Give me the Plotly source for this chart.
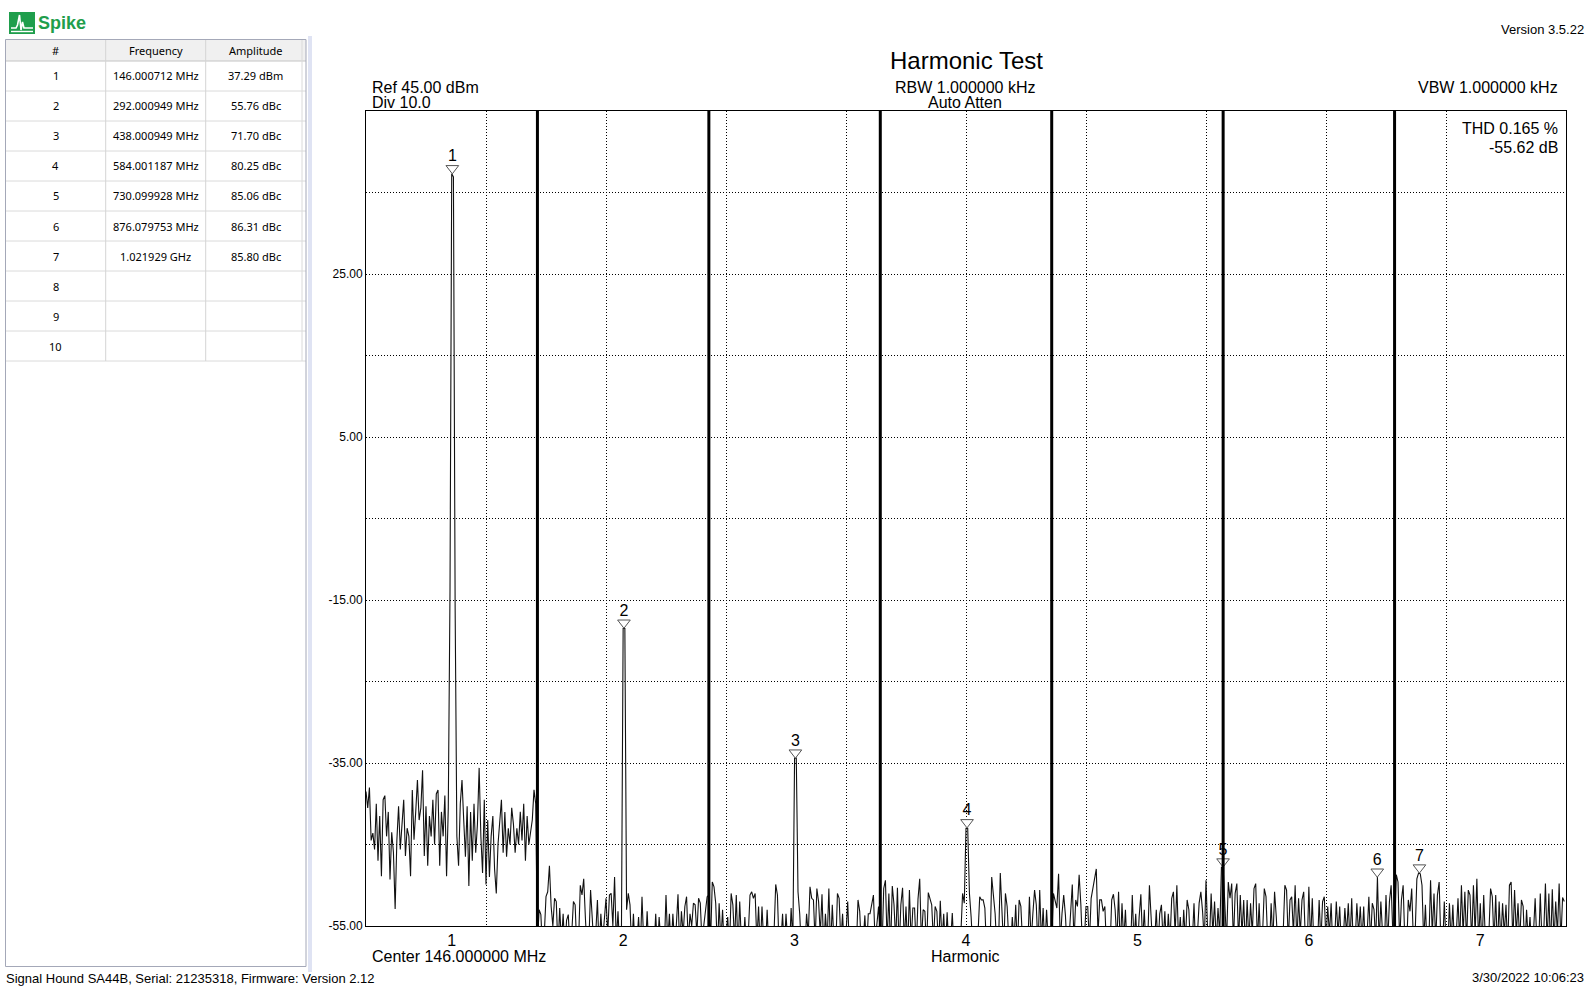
import plotly.graph_objects as go
import numpy as np

W, H = 1591, 988

# ---------------- data ----------------
harmonic_numbers = [1, 2, 3, 4, 5, 6, 7]
marker_ids = ["1", "2", "3", "4", "5", "6", "7"]
marker_harmonic = [1.0036, 2.0047, 3.0047, 4.0059, 5.4995, 6.3990, 6.6450]
marker_level = [37.29, -18.47, -34.41, -42.96, -47.77, -49.02, -48.51]

table_header = ["#", "Frequency", "Amplitude"]
table_index = [str(i) for i in range(1, 11)]
table_freq = ["146.000712 MHz", "292.000949 MHz", "438.000949 MHz", "584.001187 MHz",
              "730.099928 MHz", "876.079753 MHz", "1.021929 GHz", "", "", ""]
table_amp = ["37.29 dBm", "55.76 dBc", "71.70 dBc", "80.25 dBc", "85.06 dBc",
             "86.31 dBc", "85.80 dBc", "", "", ""]

# sweep: each harmonic window is one unit wide, 100 bins per window
sweep_bin = 0.01
section_start = [0.5, 1.5, 2.5, 3.5, 4.5, 5.5, 6.5]

trace_h1 = [-38.5, -40.5, -38.0, -44.5, -43.6, -45.6, -40.0, -47.0, -41.5, -48.9,
            -39.5, -39.0, -44.0, -41.0, -49.3, -43.5, -46.0, -52.9, -44.5, -40.3,
            -45.6, -42.0, -39.5, -46.4, -43.0, -44.0, -48.9, -38.3, -44.4, -41.0,
            -37.1, -42.0, -40.5, -35.9, -46.4, -40.3, -47.6, -41.5, -44.0, -39.5,
            -45.0, -38.8, -38.3, -47.6, -41.0, -44.0, -39.0, -48.9, -40.5, -14.0,
            37.29, 36.9, -16.0, -44.0, -47.6, -40.0, -37.1, -42.0, -46.5, -40.3,
            -50.1, -41.0, -47.0, -40.0, -46.0, -42.5, -35.6, -44.0, -48.5, -39.5,
            -49.9, -42.0, -49.0, -44.0, -41.5, -48.0, -51.0, -45.0, -42.0, -39.5,
            -46.0, -41.0, -46.5, -43.0, -45.0, -40.5, -42.5, -46.0, -43.0, -45.0,
            -41.0, -44.5, -40.0, -47.0, -41.5, -45.0, -43.5, -42.0, -38.3, -40.0]

trace_h2 = [-57, -53.0, -53.6, -58, -56, -51.4, -50.8, -47.6, -52.6, -55,
            -51.6, -52.0, -58, -52.8, -57, -53.5, -58, -54.3, -53.6, -58,
            -56, -52.0, -52.4, -58, -57, -50.0, -51.2, -49.2, -54.1, -58,
            -57, -50.6, -54.1, -58, -56, -51.8, -58, -53.5, -57, -53.7,
            -51.6, -56, -51.2, -51.0, -55, -49.0, -57, -53.2, -58, -56,
            -18.5, -18.5, -53.0, -51.0, -52.4, -58, -53.5, -58, -57, -53.9,
            -58, -51.4, -57, -58, -53.2, -58, -58, -57, -58, -53.5,
            -58, -53.9, -57, -55, -58, -51.2, -57, -53.5, -58, -53.5,
            -57, -55, -51.1, -58, -53.2, -56, -52.6, -51.4, -57, -53.5,
            -55, -52.2, -52.4, -56, -51.6, -52.2, -57, -55, -53.0, -51.4]

trace_h3 = [-51.2, -57, -49.6, -50.2, -52.2, -58, -52.2, -57, -53.0, -58,
            -56, -53.9, -58, -51.0, -52.4, -57, -51.2, -58, -52.0, -57,
            -58, -53.9, -58, -56, -51.2, -50.8, -51.6, -51.0, -57, -52.6,
            -58, -52.6, -57, -58, -53.0, -58, -57, -58, -56, -49.9,
            -51.2, -58, -57, -53.5, -58, -53.5, -57, -58, -52.8, -57,
            -34.4, -34.4, -50.8, -53.5, -58, -57, -58, -53.5, -56, -50.2,
            -51.6, -51.8, -57, -50.4, -52.0, -56, -51.1, -58, -53.5, -57,
            -50.4, -58, -52.4, -57, -58, -51.0, -51.6, -57, -53.5, -58,
            -56, -52.0, -58, -57, -58, -56, -58, -51.8, -53.2, -58,
            -57, -53.7, -58, -53.5, -53.5, -52.2, -51.2, -57, -55, -52.6]

trace_h4 = [-56, -58, -50.4, -49.4, -57, -51.0, -58, -50.1, -52.4, -57,
            -50.3, -58, -52.4, -50.3, -57, -52.6, -58, -50.6, -57, -52.8,
            -52.8, -58, -51.7, -49.2, -57, -53.0, -53.2, -58, -50.9, -51.6,
            -52.4, -57, -52.6, -53.2, -58, -51.9, -57, -53.5, -58, -53.3,
            -58, -57, -53.4, -58, -58, -57, -58, -56, -51.0, -52.2,
            -43.0, -43.0, -51.0, -53.9, -58, -57, -58, -56, -51.4, -51.8,
            -51.8, -52.8, -58, -57, -58, -49.0, -51.8, -53.5, -58, -57,
            -48.5, -53.0, -58, -51.0, -52.6, -57, -58, -53.9, -57, -52.4,
            -58, -51.8, -52.6, -57, -58, -56, -58, -51.4, -57, -53.5,
            -50.6, -52.4, -58, -50.6, -57, -52.8, -58, -53.0, -57, -55]

trace_h5 = [-57, -51.0, -52.0, -52.8, -48.6, -57, -53.5, -51.2, -53.7, -58,
            -57, -53.2, -49.9, -57, -51.8, -52.6, -48.7, -52.4, -58, -57,
            -52.6, -52.6, -57, -51.6, -50.4, -49.6, -48.0, -56, -51.8, -51.8,
            -53.2, -52.6, -58, -57, -58, -51.8, -51.1, -53.0, -57, -50.8,
            -58, -52.2, -57, -53.0, -58, -57, -58, -51.2, -57, -53.5,
            -58, -53.9, -51.1, -57, -53.0, -58, -57, -50.0, -53.5, -58,
            -57, -53.0, -58, -53.5, -52.4, -57, -53.2, -58, -53.5, -57,
            -51.6, -50.8, -56, -50.0, -57, -53.9, -58, -53.0, -57, -51.8,
            -53.0, -58, -57, -52.2, -58, -56, -52.2, -50.8, -53.2, -57,
            -49.4, -56, -57, -51.0, -56, -52.0, -57, -52.8, -56, -47.8]

trace_h6 = [-47.8, -53.2, -57, -49.6, -51.6, -49.8, -57, -51.0, -49.8, -57,
            -51.2, -56, -51.8, -58, -51.8, -57, -52.2, -56, -50.4, -49.8,
            -57, -52.2, -58, -56, -50.4, -51.4, -57, -58, -52.2, -57,
            -50.8, -53.9, -58, -57, -58, -56, -50.0, -50.6, -57, -51.8,
            -51.4, -56, -50.0, -57, -51.6, -56, -51.8, -50.8, -57, -58,
            -50.2, -57, -51.6, -58, -57, -58, -51.8, -57, -52.0, -51.4,
            -57, -52.6, -56, -52.2, -58, -57, -52.0, -56, -52.6, -58,
            -57, -52.8, -56, -52.2, -57, -51.6, -58, -57, -52.2, -56,
            -52.6, -57, -52.6, -58, -56, -51.4, -57, -52.2, -53.0, -57,
            -49.0, -57, -52.0, -56, -58, -51.2, -57, -52.0, -50.0, -56]

trace_h7 = [-56, -48.7, -49.6, -57, -51.8, -50.0, -57, -58, -51.8, -53.2,
            -50.4, -57, -56, -49.2, -48.5, -48.6, -50.0, -57, -52.4, -58,
            -57, -49.4, -56, -51.0, -57, -51.2, -49.6, -57, -58, -52.0,
            -57, -58, -52.2, -57, -52.4, -58, -56, -51.6, -57, -50.0,
            -56, -50.8, -57, -50.6, -51.2, -57, -50.0, -56, -49.2, -57,
            -52.2, -58, -51.2, -57, -58, -56, -50.4, -51.4, -57, -51.2,
            -58, -52.0, -57, -52.2, -56, -52.4, -58, -50.0, -49.6, -57,
            -50.6, -56, -52.2, -57, -51.8, -52.6, -58, -53.0, -57, -53.9,
            -58, -56, -51.6, -57, -58, -51.0, -57, -56, -49.8, -57,
            -51.0, -58, -50.5, -57, -52.0, -56, -49.8, -57, -51.5, -52.0]

sections = [trace_h1, trace_h2, trace_h3, trace_h4, trace_h5, trace_h6, trace_h7]

ref_level = 45.0
div_db = 10.0
n_div_y = 10
n_div_x = 10
x_range = [0.5, 7.5]
window_edges = [1.5, 2.5, 3.5, 4.5, 5.5, 6.5]

# ---------------- geometry helpers (pixels -> paper) ----------------
PL, PR, PT, PB = 366, 1566, 111, 926


def fx(px):
    return px / W


def fy(py):
    return 1 - py / H


def path(points):
    return "M " + " L ".join(f"{fx(a):.5f},{fy(b):.5f}" for a, b in points)


y_bottom = ref_level - n_div_y * div_db
px_per_db = (PB - PT) / (n_div_y * div_db)

# ---------------- figure ----------------
fig = go.Figure()

x_all, y_all = [], []
for start, vals in zip(section_start, sections):
    for i, v in enumerate(vals):
        x_all.append(start + i * sweep_bin)
        y_all.append(v)

fig.add_trace(go.Scatter(x=x_all, y=y_all, mode="lines",
                         line=dict(color="#111111", width=1.1),
                         hoverinfo="skip", showlegend=False))

marker_size = 11
tip_offset_db = (marker_size / 2) / px_per_db
label_offset_db = 16.5 / px_per_db
fig.add_trace(go.Scatter(
    x=marker_harmonic, y=[v + tip_offset_db for v in marker_level],
    mode="markers",
    marker=dict(symbol="triangle-down", size=marker_size, color="white",
                line=dict(color="#555", width=1)),
    hoverinfo="skip", showlegend=False, cliponaxis=False))
fig.add_trace(go.Scatter(
    x=marker_harmonic, y=[v + label_offset_db for v in marker_level],
    mode="text", text=marker_ids, textposition="middle center",
    textfont=dict(family="Liberation Sans, Arial", size=16, color="#000"),
    hoverinfo="skip", showlegend=False, cliponaxis=False))

grid_dash = "1px,2px"
y_tickvals = [y_bottom + k * div_db for k in range(n_div_y + 1)]
y_ticktext = [f"{v:.2f}" if k % 2 == 0 and k < n_div_y else "" for k, v in enumerate(y_tickvals)]
x_grid = list(np.linspace(x_range[0], x_range[1], n_div_x + 1))

fig.update_layout(
    width=W, height=H, autosize=False,
    margin=dict(l=0, r=0, t=0, b=0),
    paper_bgcolor="white", plot_bgcolor="white",
    font=dict(family="Liberation Sans, Arial", color="#000"),
    xaxis=dict(domain=[fx(PL), fx(PR)], range=x_range,
               tickmode="array", tickvals=harmonic_numbers,
               ticktext=[str(h) for h in harmonic_numbers],
               tickfont=dict(size=16, color="#000"),
               showgrid=False, zeroline=False, ticks="", automargin=False,
               showline=True, mirror=True, linecolor="#000", linewidth=1,
               minor=dict(tickmode="array", tickvals=x_grid, showgrid=True,
                          gridcolor="#000", gridwidth=1, griddash=grid_dash, ticks="")),
    yaxis=dict(domain=[fy(PB), fy(PT)], range=[y_bottom, ref_level],
               tickmode="array", tickvals=y_tickvals, ticktext=y_ticktext,
               tickfont=dict(size=12, color="#000"),
               showgrid=True, gridcolor="#000", gridwidth=1, griddash=grid_dash,
               zeroline=False, ticks="", automargin=False,
               showline=True, mirror=True, linecolor="#000", linewidth=1),
)

shapes = []
for e in window_edges:
    shapes.append(dict(type="line", xref="x", yref="y domain", x0=e, x1=e, y0=0, y1=1,
                       line=dict(color="#000", width=3), layer="above"))

# ---- left panel: marker table ----
TBL_L, TBL_R, TBL_T, HDR_B, ROW_H = 5.5, 306, 39.5, 61, 30
col_edges = [TBL_L, 105.7, 205.7, TBL_R]
n_rows = len(table_index)
rows_bottom = HDR_B + n_rows * ROW_H

shapes.append(dict(type="rect", xref="paper", yref="paper",
                   x0=fx(308), x1=fx(312), y0=fy(972), y1=fy(36),
                   fillcolor="#dfe3f3", line=dict(width=0), layer="below"))
shapes.append(dict(type="rect", xref="paper", yref="paper",
                   x0=fx(TBL_L), x1=fx(TBL_R), y0=fy(HDR_B), y1=fy(TBL_T),
                   fillcolor="#f0f0f0", line=dict(width=0), layer="below"))
for k in range(1, n_rows + 1):
    yy = HDR_B + k * ROW_H
    shapes.append(dict(type="line", xref="paper", yref="paper",
                       x0=fx(TBL_L), x1=fx(TBL_R), y0=fy(yy), y1=fy(yy),
                       line=dict(color="#dadada", width=1)))
shapes.append(dict(type="line", xref="paper", yref="paper",
                   x0=fx(TBL_L), x1=fx(TBL_R), y0=fy(HDR_B), y1=fy(HDR_B),
                   line=dict(color="#c4c4c4", width=1)))
for cx in col_edges[1:-1]:
    shapes.append(dict(type="line", xref="paper", yref="paper",
                       x0=fx(cx), x1=fx(cx), y0=fy(rows_bottom), y1=fy(TBL_T),
                       line=dict(color="#d4d4d4", width=1)))
shapes.append(dict(type="line", xref="paper", yref="paper",
                   x0=fx(TBL_R - 4), x1=fx(TBL_R - 4), y0=fy(rows_bottom), y1=fy(TBL_T),
                   line=dict(color="#dadada", width=1)))
shapes.append(dict(type="rect", xref="paper", yref="paper",
                   x0=fx(TBL_L), x1=fx(TBL_R), y0=fy(966.5), y1=fy(TBL_T),
                   line=dict(color="#a4a8b8", width=1), layer="above"))

# logo
shapes.append(dict(type="rect", xref="paper", yref="paper",
                   x0=fx(9), x1=fx(35), y0=fy(34), y1=fy(12),
                   fillcolor="#1f9e4c", line=dict(width=0)))
shapes.append(dict(type="path", xref="paper", yref="paper",
                   path=path([(11, 28), (16, 28), (17.5, 25), (19.5, 15), (21, 30),
                              (22.5, 22), (24, 28), (33, 28)]),
                   line=dict(color="white", width=1.6)))
shapes.append(dict(type="path", xref="paper", yref="paper",
                   path=path([(11, 31.5), (33, 31.5)]),
                   line=dict(color="white", width=1.4)))
fig.update_layout(shapes=shapes)


def ann(text, x, y, size, xanchor="left", color="#000", family="Liberation Sans, Arial"):
    return dict(text=text, x=fx(x), y=fy(y), xref="paper", yref="paper",
                xanchor=xanchor, yanchor="middle", showarrow=False,
                font=dict(size=size, color=color, family=family))


annotations = [
    ann("<b>Spike</b>", 36, 22.5, 18, color="#1f9e4c", family="Liberation Sans, Arial"),
    ann("Version 3.5.22", 1586, 29.5, 13, "right"),
    ann("Harmonic Test", 966, 61, 24, "center"),
    ann("Ref 45.00 dBm", 370, 87.5, 16),
    ann("Div 10.0", 370, 102.5, 16),
    ann("RBW 1.000000 kHz", 965, 87.5, 16, "center"),
    ann("Auto Atten", 965, 103, 16, "center"),
    ann("VBW 1.000000 kHz", 1560, 87.5, 16, "right"),
    ann("THD 0.165 %", 1560, 128, 16, "right"),
    ann("-55.62 dB", 1560, 147, 16, "right"),
    ann("Center 146.000000 MHz", 370, 956, 16),
    ann("Harmonic", 965, 956, 16, "center"),
    ann("Signal Hound SA44B, Serial: 21235318, Firmware: Version 2.12", 4, 978, 13),
    ann("3/30/2022 10:06:23", 1586, 977, 13, "right"),
]

table_font = "Noto Sans, Open Sans, sans-serif"
col_centers = [(col_edges[i] + col_edges[i + 1]) / 2 for i in range(3)]
for c, txt in enumerate(table_header):
    annotations.append(ann(txt, col_centers[c], (TBL_T + HDR_B) / 2, 11, "center", family=table_font))
for r in range(n_rows):
    cy = HDR_B + r * ROW_H + ROW_H / 2
    for c, col in enumerate([table_index, table_freq, table_amp]):
        if col[r]:
            annotations.append(ann(col[r], col_centers[c], cy, 11, "center", family=table_font))

fig.update_layout(annotations=annotations)

css = ("document.documentElement.style.margin='0';"
       "document.documentElement.style.padding='0';"
       "document.documentElement.style.overflow='hidden';"
       "document.body.style.margin='0';"
       "document.body.style.padding='0';"
       "document.body.style.overflow='hidden';")
fig.write_html("out.html", config={"displayModeBar": False}, post_script=css)
